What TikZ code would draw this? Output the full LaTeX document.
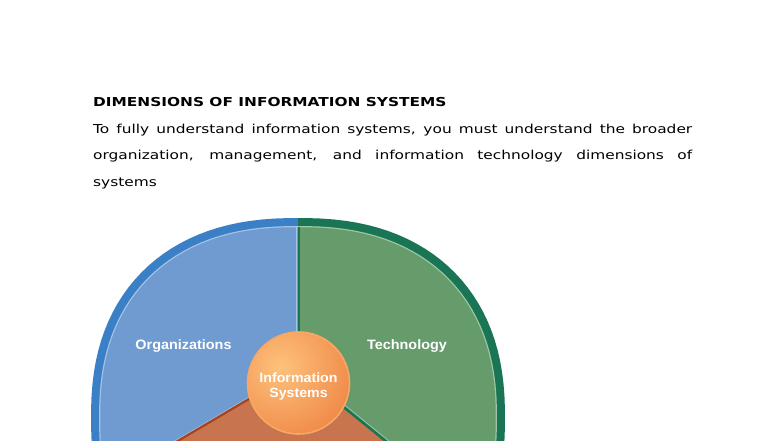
\documentclass[tikz,border=0pt]{standalone}
\usepackage{fontspec}
\setmainfont{DejaVu Sans}
\newfontfamily\bodyfont[FakeStretch=1.25]{DejaVu Sans}
\newfontfamily\titlefont[FakeStretch=1.25]{DejaVu Sans Bold}
\newfontfamily\labelfont[FakeStretch=1.06]{Liberation Sans Bold}
\definecolor{ringblue}{HTML}{3B80C6}
\definecolor{blueline}{HTML}{A5C4E6}
\definecolor{bluefill}{HTML}{6F9BD1}
\definecolor{ringgreen}{HTML}{1A7554}
\definecolor{greenline}{HTML}{9DC8A8}
\definecolor{greenfill}{HTML}{669C6B}
\definecolor{ringorange}{HTML}{B0522C}
\definecolor{orangefill}{HTML}{C8744E}
\definecolor{redline}{HTML}{A8421F}
\definecolor{ballin}{HTML}{FDC27C}
\definecolor{ballout}{HTML}{EE7F3E}
\definecolor{ballrim}{HTML}{F7A868}
\newcommand\seshape[2]{plot[domain=1.5:361.5,samples=121] ({298+#1*cos(\x)*abs(cos(\x))^(-0.14)},{418-#2*sin(\x)*abs(sin(\x))^(-0.14)})}
\tikzset{
  lbl/.style={text=white, font=\labelfont\fontsize{13.6}{15}\selectfont, inner sep=0pt},
}
\begin{document}
\begin{tikzpicture}[x=1pt,y=-1pt]
\clip (0,0) rectangle (784,441);
\fill[white] (0,0) rectangle (784,441);
% title and paragraph
\node[anchor=base west, inner sep=0pt, font=\titlefont\fontsize{12.3}{13}\selectfont] (title) at (93,106.5) {DIMENSIONS OF INFORMATION SYSTEMS};
\node[anchor=base west, inner sep=0pt] (para) at (93,133) {\parbox[t]{599pt}{\bodyfont\fontsize{12.3}{26.5}\selectfont\tolerance=9999\emergencystretch=20pt\noindent To fully understand information systems, you must understand the broader\linebreak organization, management, and information technology dimensions of\linebreak systems}};
\coordinate (C) at (298,370);
% blue sector
\begin{scope}
\clip (C) -- (298,-100) -- (-300,-100) -- (-300,723) -- cycle;
\fill[ringblue] \seshape{207}{200} -- cycle;
\fill[blueline] \seshape{199}{192} -- cycle;
\fill[bluefill] \seshape{197.8}{190.8} -- cycle;
\end{scope}
% green sector
\begin{scope}
\clip (C) -- (298,-100) -- (900,-100) -- (900,858) -- cycle;
\fill[ringgreen] \seshape{207}{200} -- cycle;
\fill[greenline] \seshape{199}{192} -- cycle;
\fill[greenfill] \seshape{197.8}{190.8} -- cycle;
\end{scope}
% orange sector
\begin{scope}
\clip (C) -- (-300,723) -- (-300,1200) -- (900,1200) -- (900,858) -- cycle;
\fill[ringorange] \seshape{207}{200} -- cycle;
\fill[orangefill] \seshape{199}{192} -- cycle;
\end{scope}
% dividers
\coordinate (top) at (298,224);
\coordinate (ll) at (-300,723);
\coordinate (rr) at (900,858);
\begin{scope}
\clip \seshape{198}{191} -- cycle;
\draw[blueline, line width=0.8pt] ([xshift=-2pt]top) -- ([xshift=-2pt]C);
\draw[ringgreen, line width=2.6pt] ([xshift=1pt]top) -- ([xshift=1pt]C);
\draw[blueline, line width=0.8pt] ([yshift=1.6pt]C) -- ([yshift=1.6pt]ll);
\draw[redline, line width=2.2pt] (C) -- (ll);
\draw[ringgreen, line width=2.6pt] (C) -- (rr);
\draw[greenline, line width=0.7pt] ([yshift=1.9pt,xshift=1pt]C) -- ([yshift=1.9pt,xshift=1pt]rr);
\end{scope}
% labels
\node[lbl] (org) at (183.5,346) {Organizations};
\node[lbl] (tech) at (407,346) {Technology};
% centre ball
\node[circle, minimum size=102pt, inner sep=0pt, draw=ballrim, line width=1.6pt,
  path picture={\shade[inner color=ballin, outer color=ballout] ([xshift=-18pt,yshift=16pt]path picture bounding box.center) circle (90pt);}] (is) at (298.5,383) {};
\node[text=white, align=center, inner sep=0pt, font=\labelfont\fontsize{13.4}{15}\selectfont] (islabel) at (298.5,387) {Information\\Systems};
\end{tikzpicture}
\end{document}
